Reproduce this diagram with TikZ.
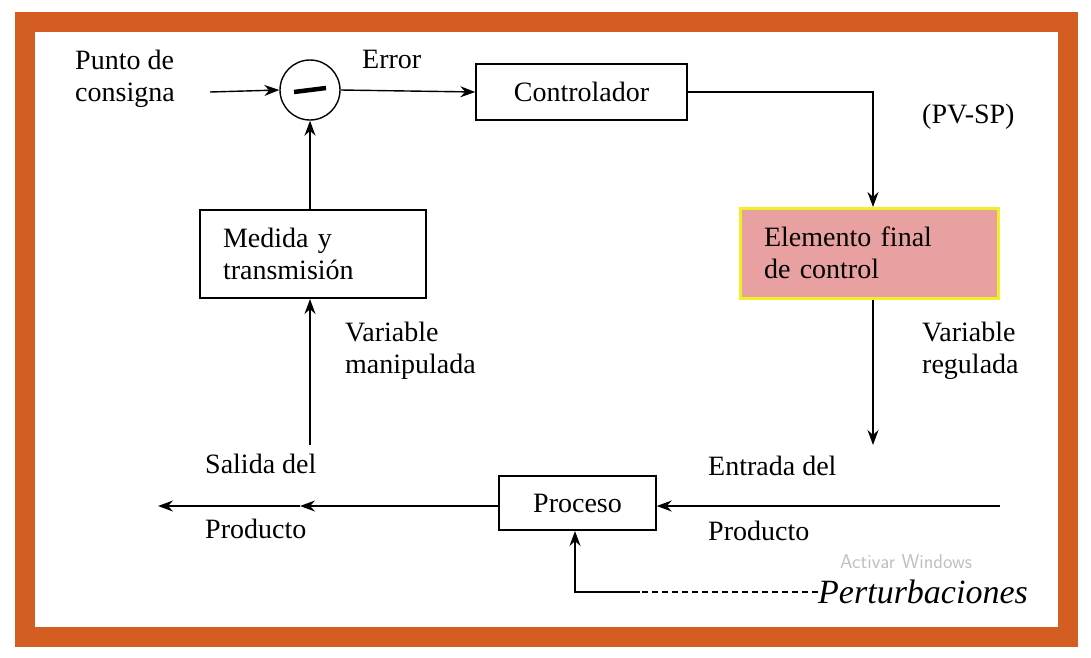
\documentclass[tikz,border=0pt]{standalone}
\usepackage{fontspec}
\setmainfont{Liberation Serif}
\usetikzlibrary{arrows.meta}
\definecolor{frameor}{RGB}{212,94,34}
\definecolor{pinkf}{RGB}{232,160,160}
\definecolor{yel}{RGB}{240,240,40}
\begin{document}
\begin{tikzpicture}[x=1pt,y=-1pt,
  lbl/.style={font=\fontsize{28}{32}\selectfont,align=left,anchor=north west,inner sep=0},
  blk/.style={draw,line width=1.4pt,font=\fontsize{28}{32}\selectfont,inner sep=0},
  arr/.style={-{Stealth[length=15pt,width=11pt]},line width=1.4pt}]
\useasboundingbox (0,0) rectangle (1091,657);
\draw[frameor,line width=20pt] (25,22) rectangle (1068,637);
\node[draw,circle,line width=1.4pt,minimum size=60pt,inner sep=0] (sum) at (310,90) {};
\draw[line width=4.5pt] (294,92) -- (326,88);
\node[lbl] (sp) at (75,50) {Punto de\\consigna};
\coordinate (spe) at (210,92);
\draw[arr] (spe) -- (sum.west);
\node[blk,minimum width=211pt,minimum height=56pt] (ctl) at (581.5,92) {Controlador};
\draw[arr] (sum.east) -- (ctl.west);
\node[lbl] at (362,50) {Error};
\node[blk,draw=yel,line width=3pt,fill=pinkf,minimum width=258pt,minimum height=90pt,align=left,text width=210pt] (efc) at (869,253) {Elemento final\\de control};
\draw[arr] (ctl.east) -- (873,92) -- (873,207);
\node[lbl] at (922,104) {(PV-SP)};
\coordinate (vr) at (873,445);
\draw[arr] (873,300) -- (vr);
\node[lbl] at (922,322) {Variable\\regulada};
\node[blk,minimum width=157pt,minimum height=54pt] (pro) at (577.5,503) {Proceso};
\coordinate (inp) at (1000,506);
\draw[arr] (inp) -- (pro.east |- inp);
\node[lbl] at (708,456) {Entrada del};
\node[lbl] at (708,521) {Producto};
\coordinate (out) at (158,506);
\coordinate (mid) at (300,506);
\draw[arr] (pro.west |- out) -- (mid);
\draw[arr] (mid) -- (out);
\node[lbl] at (205,454) {Salida del};
\node[lbl] at (205,519) {Producto};
\node[blk,minimum width=226pt,minimum height=88pt,align=left,text width=180pt] (med) at (313,254) {Medida y\\transmisión};
\coordinate (vm) at (310,445);
\draw[arr] (vm) -- (310,299);
\draw[arr] (310,210) -- (sum.south);
\node[lbl] at (345,322) {Variable\\manipulada};
\node[font=\fontsize{34}{38}\selectfont\itshape,anchor=west,inner sep=0] (per) at (818,592) {Perturbaciones};
\coordinate (c1) at (640,592);
\draw[dash pattern=on 6pt off 4pt,line width=1.4pt] (per.west) -- (c1);
\draw[arr] (c1) -- (575,592) -- (575,531);
\node[font=\fontsize{20}{22}\selectfont\sffamily,text=gray!50,anchor=west,inner sep=0] at (840,562) {Activar Windows};
\end{tikzpicture}
\end{document}
